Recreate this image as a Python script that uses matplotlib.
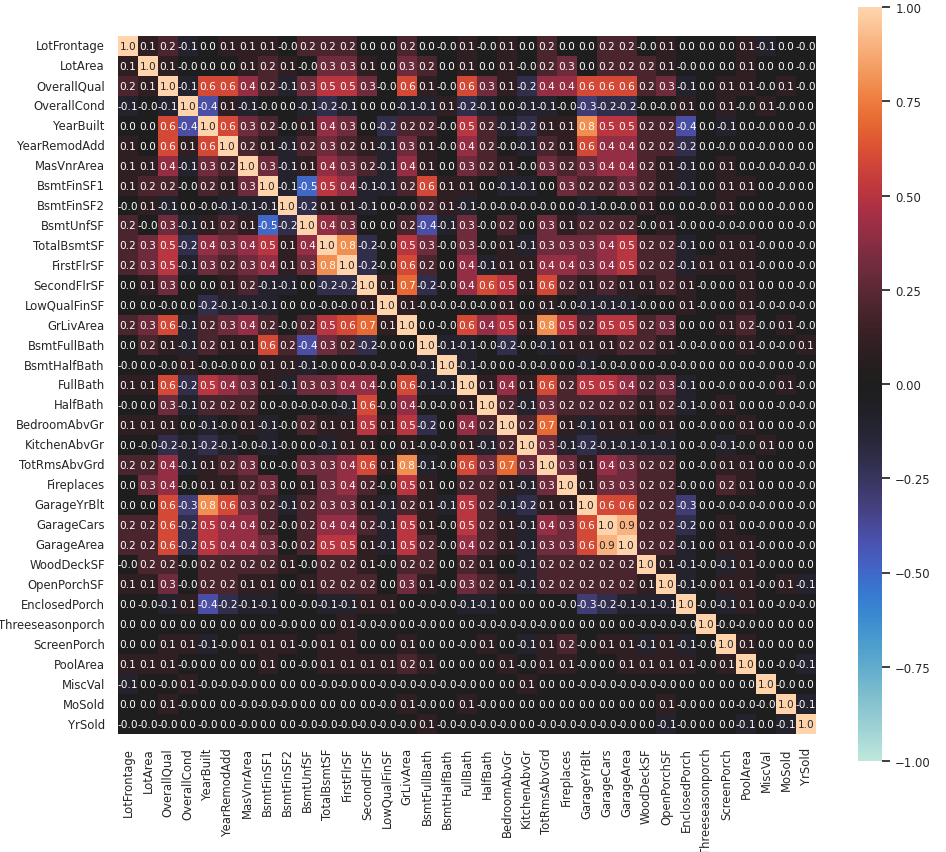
import numpy as np
import matplotlib
matplotlib.use("Agg")
import matplotlib.pyplot as plt
import seaborn as sns

labels = ["LotFrontage","LotArea","OverallQual","OverallCond","YearBuilt","YearRemodAdd","MasVnrArea",
          "BsmtFinSF1","BsmtFinSF2","BsmtUnfSF","TotalBsmtSF","FirstFlrSF","SecondFlrSF","LowQualFinSF",
          "GrLivArea","BsmtFullBath","BsmtHalfBath","FullBath","HalfBath","BedroomAbvGr","KitchenAbvGr",
          "TotRmsAbvGrd","Fireplaces","GarageYrBlt","GarageCars","GarageArea","WoodDeckSF","OpenPorchSF",
          "EnclosedPorch","Threeseasonporch","ScreenPorch","PoolArea","MiscVal","MoSold","YrSold"]

# upper triangle: row i holds correlations with columns i+1 .. 34
upper = [
 [0.1,0.2,-0.1,0.0,0.1,0.1,0.1,-0.0,0.2,0.2,0.2, 0.0,0.0,0.2,0.0,-0.0,0.1,-0.0,0.1,0.0,0.2,0.0, 0.0,0.2,0.2,-0.0,0.1,0.0,0.0,0.0,0.1,-0.1,0.0,-0.0],
 [0.1,-0.0,0.0,0.0,0.1,0.2,0.1,-0.0,0.3,0.3, 0.1,0.0,0.3,0.2,0.0,0.1,0.0,0.1,-0.0,0.2,0.3, 0.0,0.2,0.2,0.2,0.1,-0.0,0.0,0.0,0.1,0.0,0.0,-0.0],
 [-0.1,0.6,0.6,0.4,0.2,-0.1,0.3,0.5,0.5, 0.3,-0.0,0.6,0.1,-0.0,0.6,0.3,0.1,-0.2,0.4,0.4, 0.6,0.6,0.6,0.2,0.3,-0.1,0.0,0.1,0.1,-0.0,0.1,-0.0],
 [-0.4,0.1,-0.1,-0.0,0.0,-0.1,-0.2,-0.1, 0.0,0.0,-0.1,-0.1,0.1,-0.2,-0.1,0.0,-0.1,-0.1,-0.0, -0.3,-0.2,-0.2,-0.0,-0.0,0.1,0.0,0.1,-0.0,0.1,-0.0,0.0],
 [0.6,0.3,0.2,-0.0,0.1,0.4,0.3, 0.0,-0.2,0.2,0.2,-0.0,0.5,0.2,-0.1,-0.2,0.1,0.1, 0.8,0.5,0.5,0.2,0.2,-0.4,0.0,-0.1,0.0,-0.0,0.0,-0.0],
 [0.2,0.1,-0.1,0.2,0.3,0.2, 0.1,-0.1,0.3,0.1,-0.0,0.4,0.2,-0.0,-0.1,0.2,0.1, 0.6,0.4,0.4,0.2,0.2,-0.2,0.0,-0.0,0.0,-0.0,0.0,0.0],
 [0.3,-0.1,0.1,0.4,0.3, 0.2,-0.1,0.4,0.1,0.0,0.3,0.2,0.1,-0.0,0.3,0.2, 0.3,0.4,0.4,0.2,0.1,-0.1,0.0,0.1,0.0,-0.0,-0.0,-0.0],
 [-0.1,-0.5,0.5,0.4, -0.1,-0.1,0.2,0.6,0.1,0.1,0.0,-0.1,-0.1,0.0,0.3, 0.2,0.2,0.3,0.2,0.1,-0.1,0.0,0.1,0.1,0.0,-0.0,0.0],
 [-0.2,0.1,0.1, -0.1,0.0,-0.0,0.2,0.1,-0.1,-0.0,-0.0,-0.0,-0.0,0.0, -0.1,-0.0,-0.0,0.1,0.0,0.0,-0.0,0.1,0.0,0.0,-0.0,0.0],
 [0.4,0.3, 0.0,0.0,0.2,-0.4,-0.1,0.3,-0.0,0.2,0.0,0.3,0.1, 0.2,0.2,0.2,-0.0,0.1,-0.0,0.0,-0.0,-0.0,0.0,0.0,-0.0],
 [0.8, -0.2,-0.0,0.5,0.3,-0.0,0.3,-0.0,0.1,-0.1,0.3,0.3, 0.3,0.4,0.5,0.2,0.2,-0.1,0.0,0.1,0.1,-0.0,0.0,-0.0],
 [-0.2,-0.0,0.6,0.2,0.0,0.4,-0.1,0.1,0.1,0.4,0.4, 0.3,0.4,0.5,0.2,0.2,-0.1,0.1,0.1,0.1,-0.0,0.0,-0.0],
 [0.1,0.7,-0.2,-0.0,0.4,0.6,0.5,0.1,0.6,0.2, 0.1,0.2,0.1,0.1,0.2,0.1,-0.0,0.0,0.1,0.0,0.0,-0.0],
 [0.1,-0.0,-0.0,-0.0,-0.0,0.1,0.0,0.1,-0.0, -0.1,-0.1,-0.1,-0.0,0.0,0.1,-0.0,0.0,0.1,-0.0,-0.0,-0.0],
 [0.0,-0.0,0.6,0.4,0.5,0.1,0.8,0.5, 0.2,0.5,0.5,0.2,0.3,0.0,0.0,0.1,0.2,-0.0,0.1,-0.0],
 [-0.1,-0.1,-0.0,-0.2,-0.0,-0.1,0.1, 0.1,0.1,0.2,0.2,0.1,-0.0,-0.0,0.0,0.1,-0.0,-0.0,0.1],
 [-0.1,-0.0,0.0,-0.0,-0.0,0.0, -0.1,-0.0,-0.0,0.0,-0.0,-0.0,0.0,0.0,0.0,-0.0,0.0,-0.0],
 [0.1,0.4,0.1,0.6,0.2, 0.5,0.5,0.4,0.2,0.3,-0.1,0.0,-0.0,0.0,-0.0,0.1,-0.0],
 [0.2,-0.1,0.3,0.2, 0.2,0.2,0.2,0.1,0.2,-0.1,-0.0,0.1,0.0,0.0,-0.0,-0.0],
 [0.2,0.7,0.1, -0.1,0.1,0.1,0.0,0.1,0.0,-0.0,0.0,0.1,0.0,0.0,-0.0],
 [0.3,-0.1, -0.2,-0.1,-0.1,-0.1,-0.1,0.0,-0.0,-0.1,-0.0,0.1,0.0,0.0],
 [0.3, 0.1,0.4,0.3,0.2,0.2,0.0,-0.0,0.1,0.1,0.0,0.0,-0.0],
 [0.1,0.3,0.3,0.2,0.2,-0.0,0.0,0.2,0.1,0.0,0.0,-0.0],
 [0.6,0.6,0.2,0.2,-0.3,0.0,-0.0,-0.0,-0.0,0.0,-0.0],
 [0.9,0.2,0.2,-0.2,0.0,0.1,0.0,-0.0,0.0,-0.0],
 [0.2,0.2,-0.1,0.0,0.1,0.1,-0.0,0.0,-0.0],
 [0.1,-0.1,-0.0,-0.1,0.1,-0.0,0.0,0.0],
 [-0.1,-0.0,0.1,0.1,-0.0,0.1,-0.1],
 [-0.0,-0.1,0.1,0.0,-0.0,-0.0],
 [-0.0,-0.0,0.0,0.0,0.0],
 [0.1,0.0,0.0,0.0],
 [0.0,-0.0,-0.1],
 [-0.0,0.0],
 [-0.1],
]

n = len(labels)
corr = np.eye(n)
for i, row in enumerate(upper):
    for k, v in enumerate(row):
        j = i + 1 + k
        corr[i, j] = v
        corr[j, i] = v

sns.set_theme()
fig = plt.figure(figsize=(9.46, 8.53), dpi=100)
ax = fig.add_axes([118/946, 1-735/853, 698/946, 698/853])
cax = fig.add_axes([858/946, 1-762/853, 24/946, 754/853])
sns.heatmap(corr, ax=ax, cbar_ax=cax, cmap="icefire", vmin=-1, vmax=1, center=0,
            annot=True, fmt=".1f", annot_kws={"size": 7.6}, square=False,
            xticklabels=labels, yticklabels=labels)
ax.tick_params(axis="x", rotation=90, labelsize=8.4)
ax.tick_params(axis="y", rotation=0, labelsize=8.4)
cax.set_yticks([-1, -0.75, -0.5, -0.25, 0, 0.25, 0.5, 0.75, 1])
cax.set_yticklabels(["\u22121.00", "\u22120.75", "\u22120.50", "\u22120.25", "0.00", "0.25", "0.50", "0.75", "1.00"])
cax.tick_params(labelsize=8.4)
fig.savefig("out.png", dpi=100)
